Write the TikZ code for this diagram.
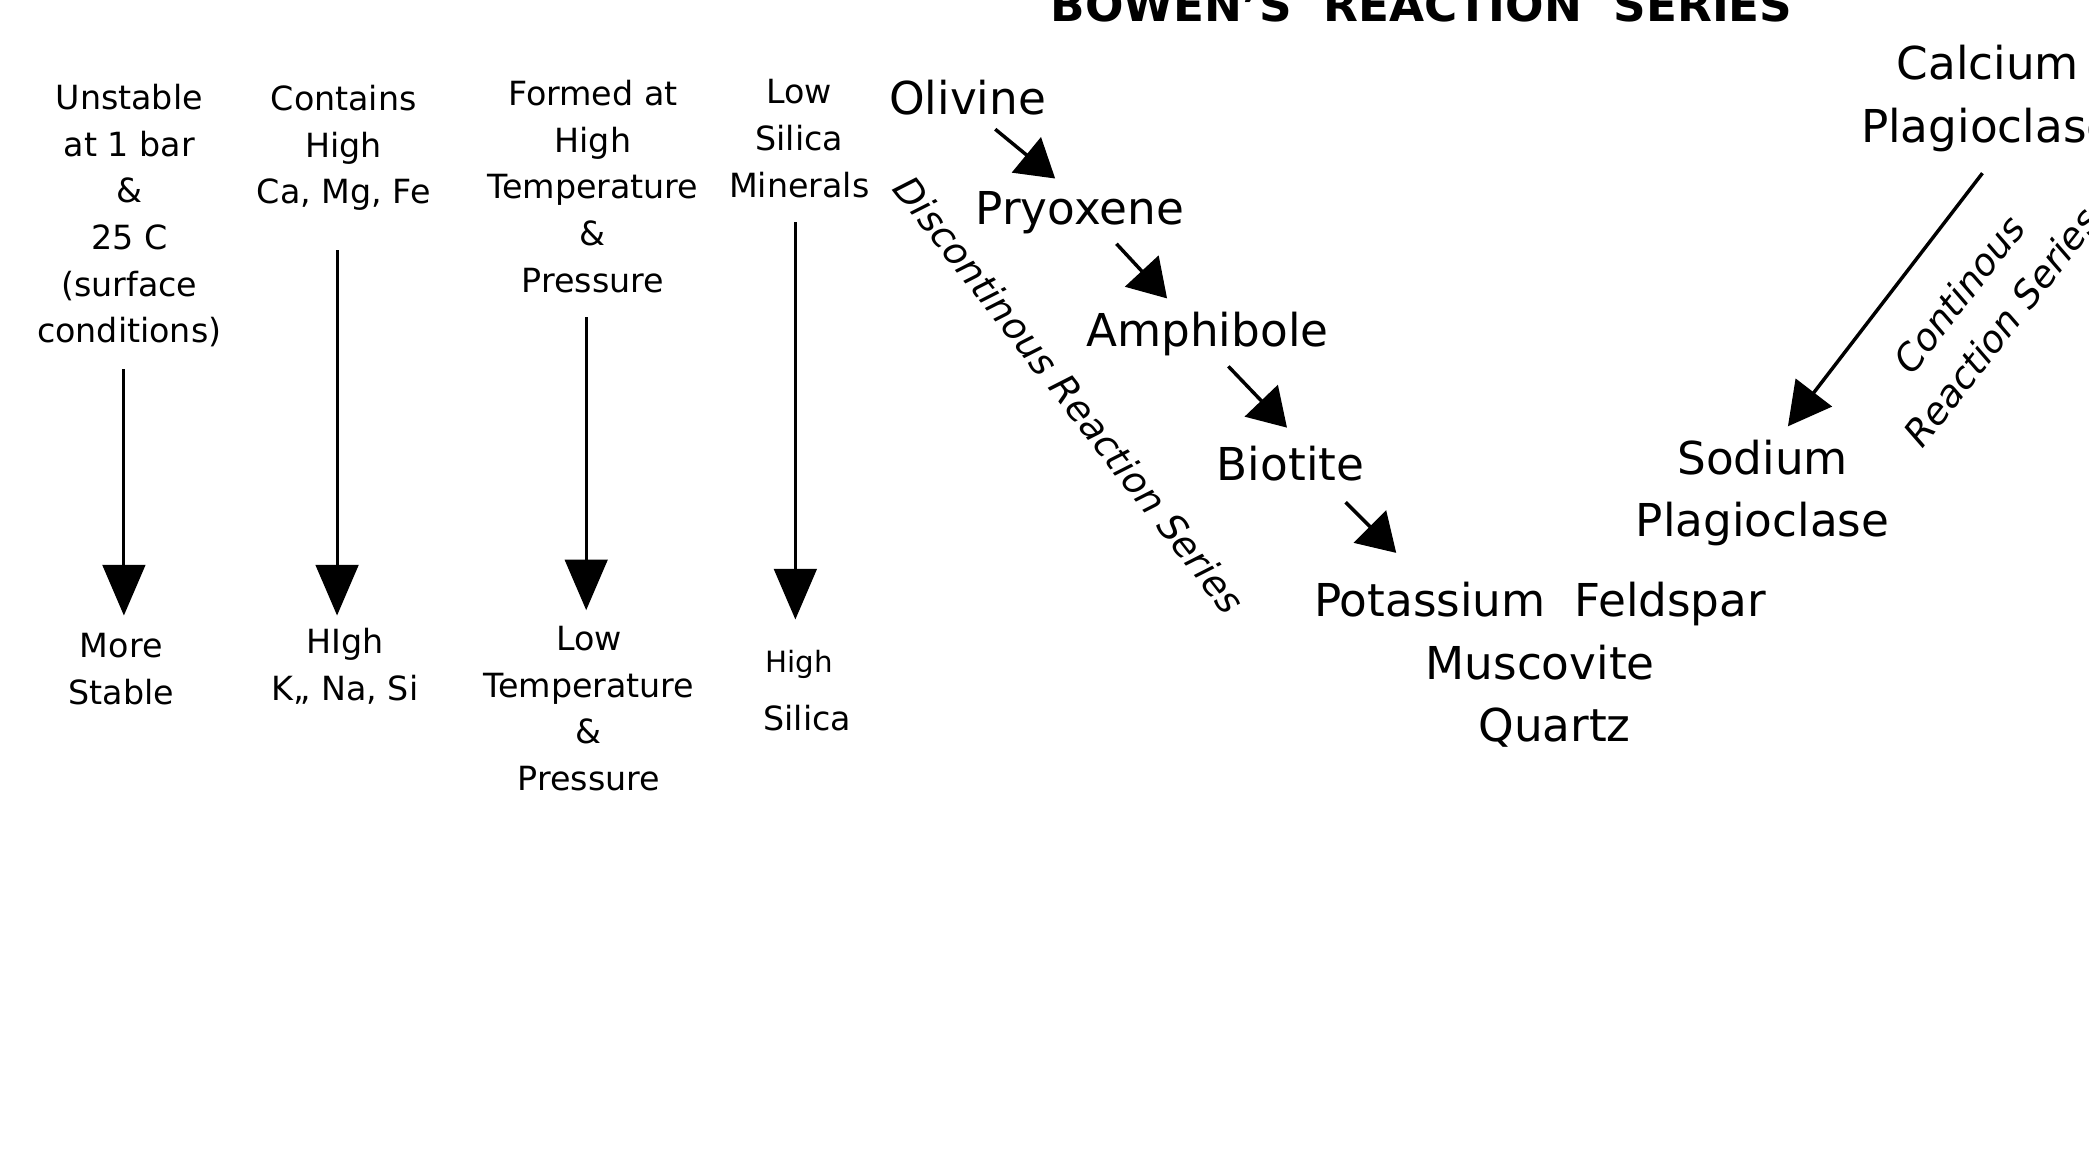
\documentclass[tikz,border=0pt]{standalone}
\usepackage{fontspec}
\setmainfont{DejaVu Sans}
\usetikzlibrary{arrows.meta}
\begin{document}
\begin{tikzpicture}[x=0.5pt,y=-0.5pt,
  sm/.style={font=\fontsize{12.5}{17.5}\selectfont,align=center,inner sep=0},
  big/.style={font=\fontsize{17}{23.5}\selectfont,align=center,inner sep=0},
  varr/.style={line width=1.1pt,-{Triangle[length=19pt,width=16pt]}},
  darr/.style={line width=1.3pt,-{Triangle[length=14pt,width=17pt]}}]
\useasboundingbox (0,0) rectangle (1568,881);
\clip (0,0) rectangle (1568,881);
\node[font=\bfseries\fontsize{17}{20}\selectfont] (title) at (1067,4) {BOWEN'S\ \ REACTION\ \ SERIES};
% columns
\node[sm] (a1) at (97,162) {Unstable\\at 1 bar\\\&\\25 C\\(surface\\conditions)};
\node[sm] (a2) at (91,502) {More\\Stable};
\coordinate (a1s) at (93,277); \coordinate (a1e) at (93,462);
\draw[varr] (a1s) -- (a1e);
\node[sm] (b1) at (258,111) {Contains\\High\\Ca, Mg, Fe};
\node[sm] (b2) at (259,500) {HIgh\\K,, Na, Si};
\coordinate (b1s) at (253,188); \coordinate (b1e) at (253,462);
\draw[varr] (b1s) -- (b1e);
\node[sm] (c1) at (445,140) {Formed at\\High\\Temperature\\\&\\Pressure};
\node[sm] (c2) at (442,532) {Low\\Temperature\\\&\\Pressure};
\coordinate (c1s) at (440,238); \coordinate (c1e) at (440,458);
\draw[varr] (c1s) -- (c1e);
\node[sm] (d1) at (600,104) {Low\\Silica\\Minerals};
\node[font=\fontsize{11}{14}\selectfont,inner sep=0] (d2) at (600,499) {High};
\node[sm] (d3) at (606,539) {Silica};
\coordinate (d1s) at (597,167); \coordinate (d1e) at (597,465);
\draw[varr] (d1s) -- (d1e);
% discontinuous series
\node[big,anchor=west] (ol) at (667,73) {Olivine};
\node[big,anchor=west] (py) at (732,160) {Pryoxene};
\node[big,anchor=west] (am) at (815,251) {Amphibole};
\node[big,anchor=west] (bi) at (913,348) {Biotite};
\node[big] (kf) at (1156,499) {Potassium\ \ Feldspar\\Muscovite\\\ \ Quartz};
\coordinate (o1) at (747,97); \coordinate (o2) at (792,134);
\coordinate (p1) at (838,183); \coordinate (p2) at (876,224);
\coordinate (m1) at (922,275); \coordinate (m2) at (966,321);
\coordinate (t1) at (1010,377); \coordinate (t2) at (1048,415);
\draw[darr] (o1) -- (o2);
\draw[darr] (p1) -- (p2);
\draw[darr] (m1) -- (m2);
\draw[darr] (t1) -- (t2);
\node[font=\itshape\fontsize{14}{18}\selectfont,rotate=-52,inner sep=0] (dis) at (803,296) {Discontinous Reaction Series};
% continuous series
\node[big] (ca) at (1492,74) {Calcium\\Plagioclase};
\node[big] (na) at (1323,370) {Sodium\\Plagioclase};
\coordinate (c1a) at (1488,130); \coordinate (c2a) at (1342,320);
\draw[line width=1.3pt,-{Triangle[length=16pt,width=17pt]}] (c1a) -- (c2a);
\node[font=\itshape\fontsize{14}{20}\selectfont,rotate=52,align=center,inner sep=0] (con) at (1486,233) {Continous\\Reaction Series};
\end{tikzpicture}
\end{document}
